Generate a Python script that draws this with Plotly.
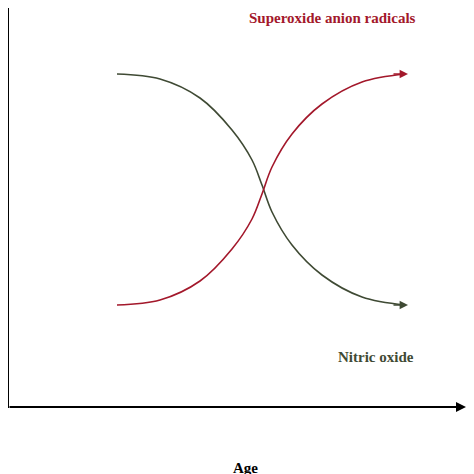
import plotly.graph_objects as go

# curve samples (x, y in picture units, y downwards)
no_x = [117, 160, 200, 232, 252, 262, 272, 292, 322, 362, 405]
no_y = [74, 79, 98, 130, 160, 185, 212, 245, 275, 297, 305]
so_x = no_x
so_y = [305, 300, 281, 249, 219, 194, 167, 134, 104, 82, 74]

so_label = "Superoxide anion radicals"
no_label = "Nitric oxide"
x_label = "Age"

RED = "#a3182b"
GREEN = "#3f4a34"
FONT = "Liberation Serif"

fig = go.Figure()
fig.add_trace(go.Scatter(x=no_x, y=no_y, mode="lines",
                         line=dict(color=GREEN, width=1.6, shape="spline")))
fig.add_trace(go.Scatter(x=so_x, y=so_y, mode="lines",
                         line=dict(color=RED, width=1.6, shape="spline")))

# arrow heads at curve ends
for xs, ys, c in [(no_x, no_y, GREEN), (so_x, so_y, RED)]:
    fig.add_annotation(x=xs[-1] + 3, y=ys[-1], ax=xs[-2] + 30, ay=ys[-1],
                       xref="x", yref="y", axref="x", ayref="y", text="",
                       showarrow=True, arrowhead=2, arrowsize=1.2,
                       arrowwidth=1.4, arrowcolor=c)

# axes
fig.add_shape(type="line", x0=8, x1=8, y0=0, y1=408,
              line=dict(color="black", width=2))
fig.add_annotation(x=466, y=407, ax=8, ay=407, xref="x", yref="y",
                   axref="x", ayref="y", text="", showarrow=True,
                   arrowhead=2, arrowsize=1, arrowwidth=2, arrowcolor="black")

fig.add_annotation(x=332, y=18, text="<b>" + so_label + "</b>", showarrow=False,
                   font=dict(family=FONT, size=15, color=RED))
fig.add_annotation(x=376, y=357, text="<b>" + no_label + "</b>", showarrow=False,
                   font=dict(family=FONT, size=15, color=GREEN))
fig.add_annotation(x=245, y=468, text="<b>" + x_label + "</b>", showarrow=False,
                   font=dict(family=FONT, size=15, color="black"))

# the page body adds an 8px offset; shift the ranges to compensate
fig.update_layout(
    width=474, height=474, margin=dict(l=0, r=0, t=0, b=0, pad=0),
    plot_bgcolor="white", paper_bgcolor="white", showlegend=False,
    xaxis=dict(range=[8, 482], visible=False),
    yaxis=dict(range=[482, 8], visible=False),
)

fig.write_html("out.html")
